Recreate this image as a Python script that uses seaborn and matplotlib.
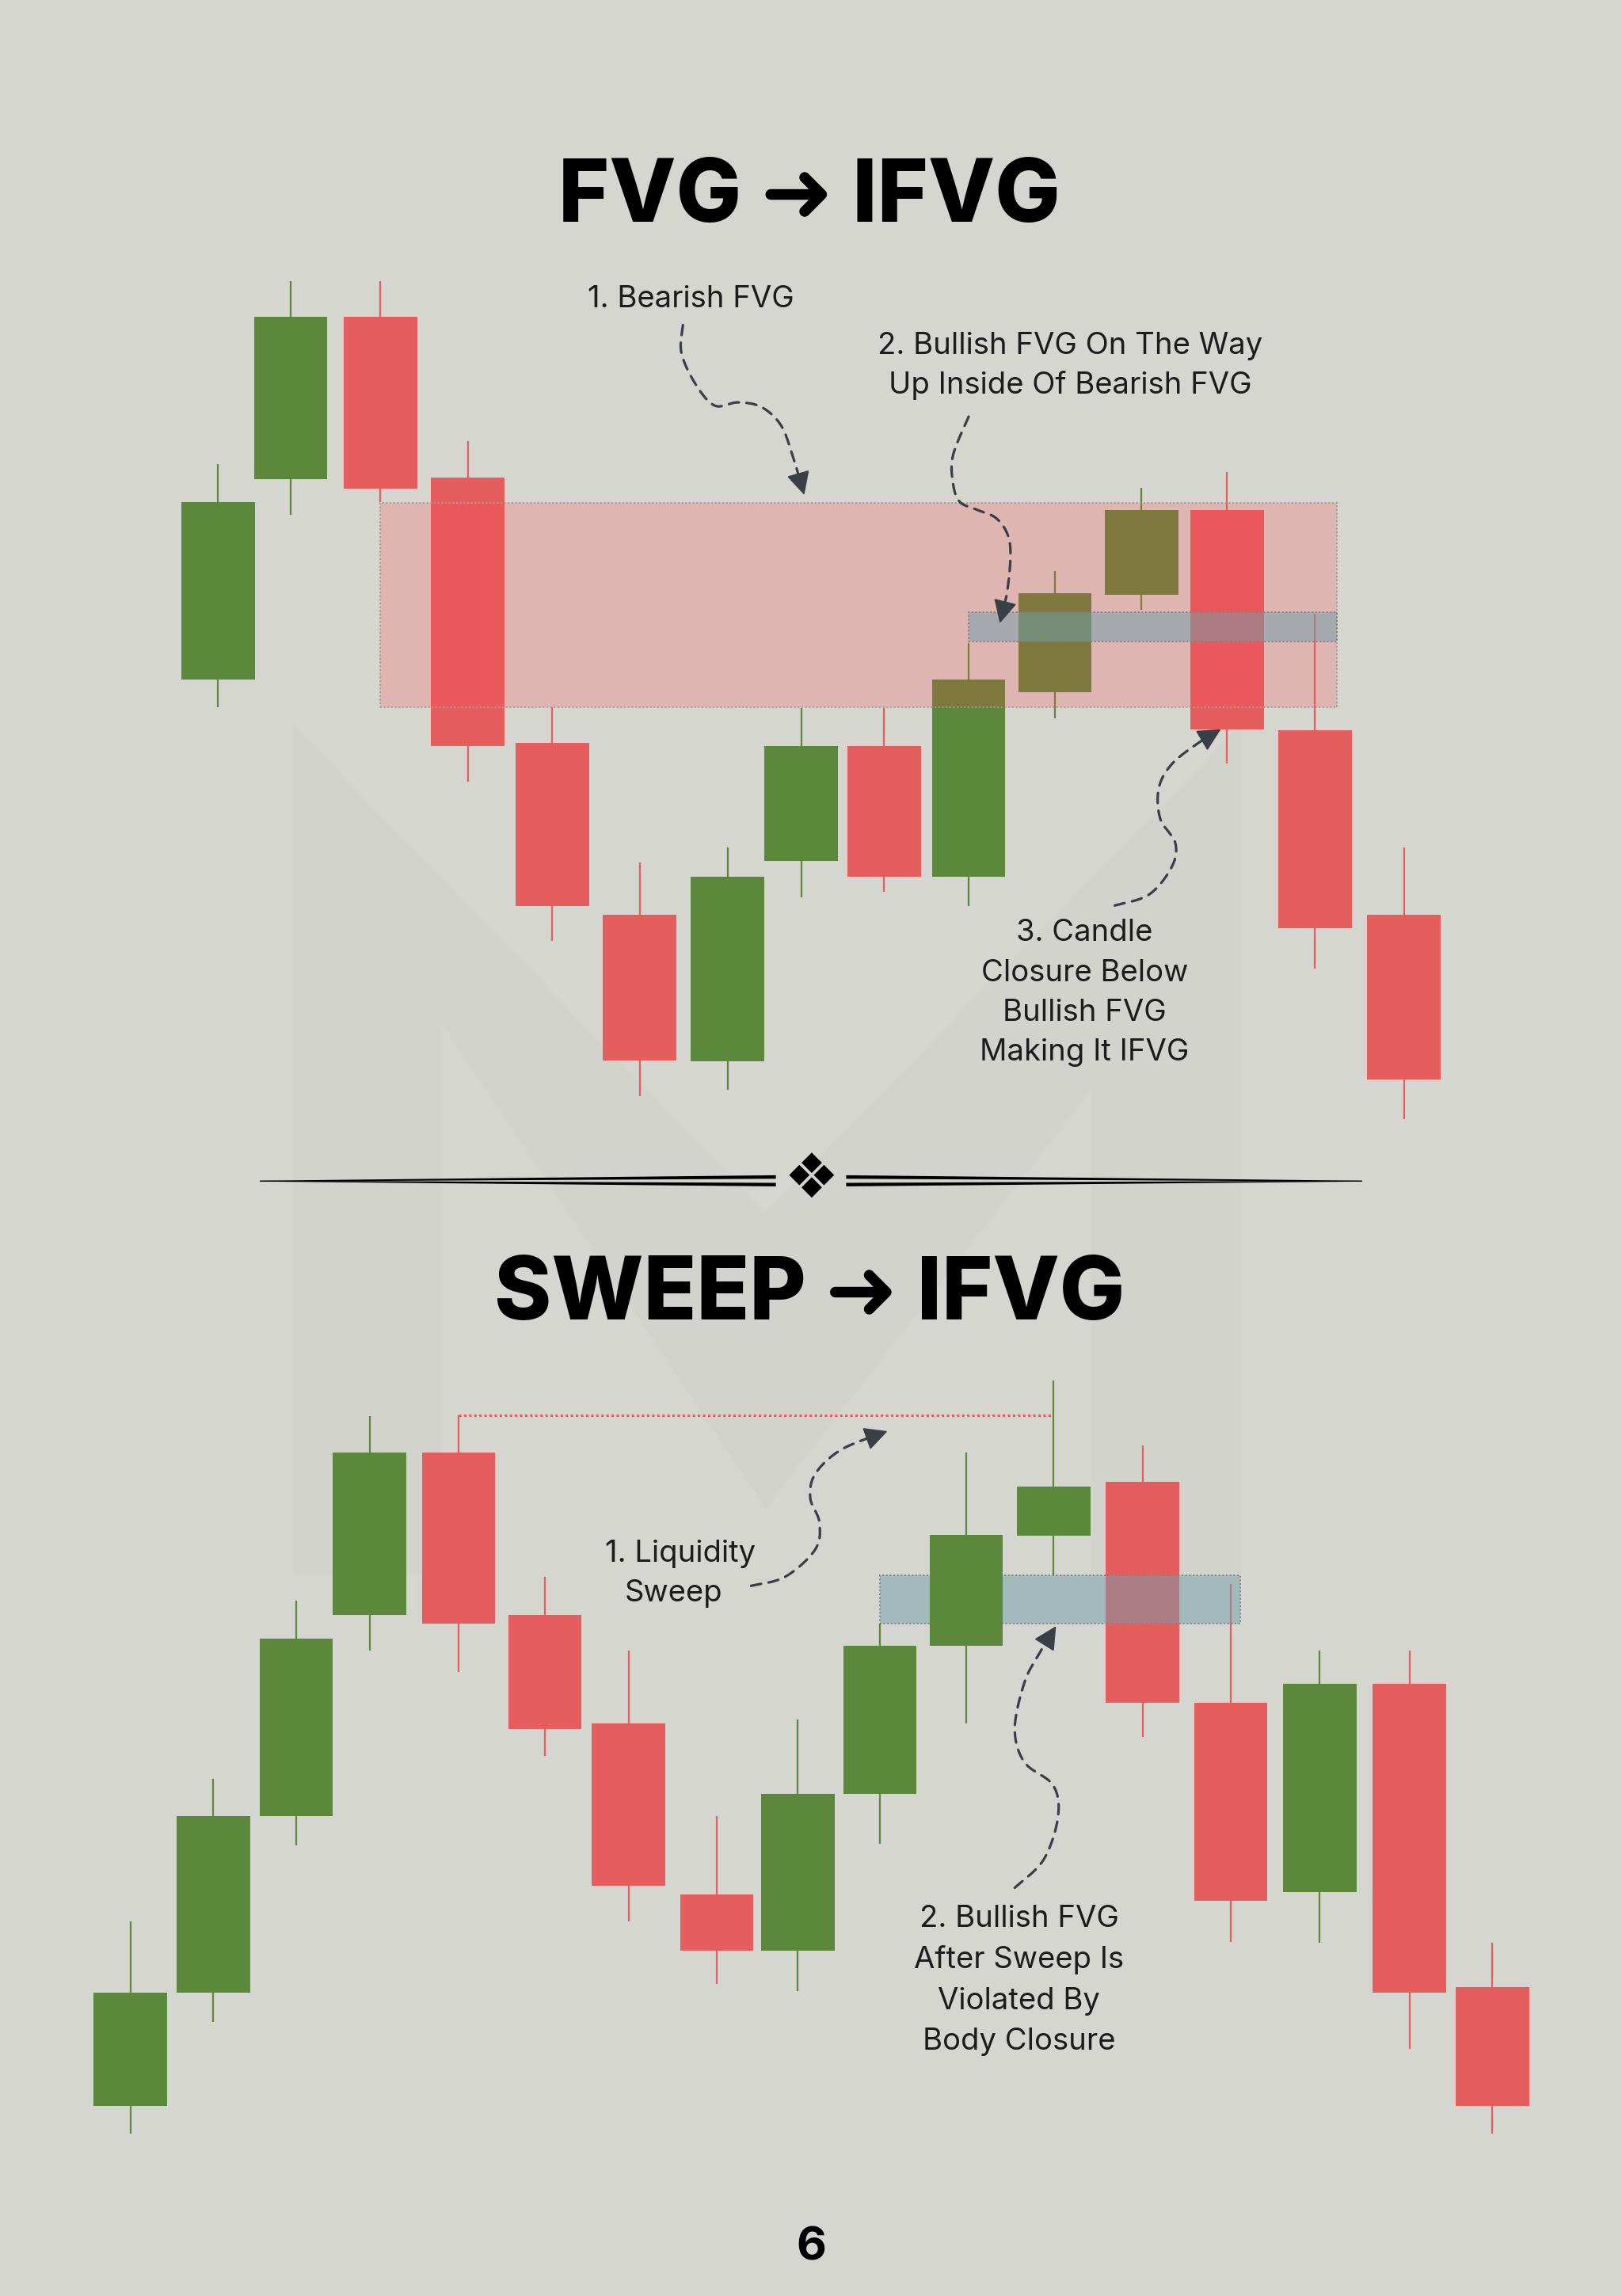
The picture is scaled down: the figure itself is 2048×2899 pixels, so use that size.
import numpy as np
import pandas as pd
import matplotlib
matplotlib.use("Agg")
import matplotlib.pyplot as plt
import seaborn as sns
from matplotlib.patches import Rectangle, Polygon, FancyArrowPatch

# ---------------- data ----------------
# Chart 1 : FVG -> IFVG   (x = bar slot, prices in arbitrary units)
top_x     = [0.00, 0.84, 1.88, 2.89, 3.87, 4.88, 5.90, 6.75, 7.71, 8.69, 9.69, 10.69, 11.68, 12.70, 13.73]
top_open  = [67.2, 94.5, 116.7, 94.8, 58.5, 35.1, 15.0, 42.4, 58.1, 40.2, 65.5, 78.8, 90.3, 60.3, 35.1]
top_close = [91.4, 116.7, 93.3, 58.1, 36.3, 15.1, 40.2, 58.1, 40.2, 67.2, 79.0, 90.3, 60.4, 33.2, 12.6]
top_high  = [96.6, 121.6, 121.6, 99.8, 63.4, 42.2, 44.3, 63.3, 63.3, 72.2, 82.0, 93.4, 95.5, 76.2, 44.3]
top_low   = [63.4, 89.7, 91.4, 53.2, 31.5, 10.3, 11.1, 37.4, 38.2, 36.3, 61.9, 76.7, 55.7, 27.7, 7.1]
top_bear_fvg = [1.88, 12.95, 63.4, 91.3]     # x start, x end, low, high
top_bull_fvg = [8.69, 12.95, 72.4, 76.4]

# Chart 2 : SWEEP -> IFVG
bot_x     = [0.00, 0.96, 1.92, 2.77, 3.80, 4.80, 5.77, 6.79, 7.73, 8.68, 9.68, 10.69, 11.72, 12.74, 13.77, 14.81, 15.77]
bot_open  = [32.4, 47.8, 72.0, 99.4, 121.6, 99.4, 84.6, 61.2, 53.6, 75.0, 95.2, 110.2, 117.6, 87.4, 61.6, 90.0, 48.6]
bot_close = [47.8, 72.0, 96.2, 121.6, 98.2, 83.8, 62.4, 53.6, 75.0, 95.2, 110.4, 117.0, 87.4, 60.4, 90.0, 47.8, 32.4]
bot_high  = [57.6, 77.0, 101.4, 126.6, 126.7, 104.6, 94.6, 72.0, 85.2, 98.2, 121.6, 131.4, 122.6, 103.6, 94.6, 94.6, 54.6]
bot_low   = [28.6, 43.8, 68.0, 94.6, 91.6, 80.2, 57.6, 49.0, 48.0, 68.2, 84.6, 104.8, 82.8, 54.8, 54.6, 40.2, 28.6]
bot_bull_fvg = [8.68, 12.85, 98.2, 104.8]
sweep_level = [3.80, 10.69, 126.7]           # x start, x end, price

# texts
title_top = "FVG \u279c IFVG"
title_bot = "SWEEP \u279c IFVG"
page_no = "6"
top_notes = [("1. Bearish FVG", 472, 209.6),
             ("2. Bullish FVG On The Way", 731, 241.7),
             ("Up Inside Of Bearish FVG", 731, 269.0),
             ("3. Candle", 741, 642.8),
             ("Closure Below", 741, 670.2),
             ("Bullish FVG", 741, 697.0),
             ("Making It IFVG", 741, 724.0)]
bot_notes = [("1. Liquidity", 465, 1066.4),
             ("Sweep", 460, 1093.4),
             ("2. Bullish FVG", 696, 1316),
             ("After Sweep Is", 696, 1344),
             ("Violated By", 696, 1372),
             ("Body Closure", 696, 1400)]

# annotation arrow paths (page coordinates)
arrow_paths = [
    [(466.5, 222), (465.4, 240.6), (474.5, 261.3), (488, 276.9), (504, 274.8), (520, 277.9),
     (533.4, 290.3), (541.4, 311), (549.4, 338)],
    [(661.7, 284.5), (651, 311), (651, 330), (655.5, 342.6), (667, 348), (680, 353.5),
     (688, 364.3), (690.3, 378.7), (688, 404), (683, 425.6)],
    [(761.5, 618.4), (784.8, 611), (800.3, 592.3), (802.9, 575.8), (792.6, 559.2),
     (791.5, 538.5), (800.3, 522), (818.4, 507.5), (834, 498)],
    [(513.1, 1083), (536.4, 1076.8), (557, 1058), (559.7, 1039.5), (553.5, 1023),
     (557, 1006.4), (575, 989.8), (606.3, 977.4)],
    [(693.2, 1289.2), (712.9, 1270), (722.7, 1241), (719.4, 1219.2), (699.8, 1203.5),
     (693.2, 1180.5), (699.8, 1149), (709.6, 1129.8), (721.4, 1110.5)],
]

# ---------------- style ----------------
BG = "#D6D6D0"
GREEN = "#5B883A"
RED = "#E65D5E"
INK = "#1C1C1C"
ARROW = "#3A3E46"
BODY_W = 0.85

sns.set_theme(style="white")
plt.rcParams["font.family"] = ["Inter", "DejaVu Sans"]

W, H = 1108.0, 1568.0   # page coordinate system
fig = plt.figure(figsize=(20.48, 28.99), dpi=100, facecolor=BG)

page = fig.add_axes([0, 0, 1, 1], zorder=0, label="page")
page.set_xlim(0, W); page.set_ylim(H, 0); page.axis("off")
page.set_facecolor(BG)

# faint watermark
page.add_patch(Polygon([(200, 495), (523, 828), (848, 495), (848, 1075), (745, 1075), (745, 745),
                        (523, 1030), (301, 698), (301, 1075), (200, 1075)],
                       closed=True, facecolor="black", alpha=0.012, lw=0, zorder=0))

# titles and page number
for txt, y in ((title_top, 151.5), (title_bot, 901.0)):
    page.text(W / 2 - 1, y, txt, ha="center", va="baseline", fontsize=79,
              fontweight="heavy", color="black", family=["Inter", "DejaVu Sans"])
page.text(554.3, 1543.6, page_no, ha="center", va="baseline", fontsize=42,
          fontweight="bold", color="black")

# divider
yc = 806.6
for sgn in (-1, 1):
    x_in = 554 + sgn * 24.0
    x_out = 554 + sgn * 376.5
    page.add_patch(Polygon([(x_out, yc - 0.3), (x_in, yc - 4.0), (x_in, yc - 1.6), (x_out, yc + 0.3)],
                           closed=True, facecolor="black", lw=0))
    page.add_patch(Polygon([(x_out, yc - 0.3), (x_in, yc + 1.2), (x_in, yc + 3.6), (x_out, yc + 0.3)],
                           closed=True, facecolor="black", lw=0))
page.text(554, 806, "\u2756", ha="center", va="center", fontsize=56, color="black",
          family=["DejaVu Sans"])


def draw_candles(ax, x, o, c, h, l, z_up, z_down):
    df = pd.DataFrame(dict(x=x, o=o, c=c, h=h, l=l))
    df["up"] = df["c"] >= df["o"]
    for up, z in ((True, z_up), (False, z_down)):
        d = df[df["up"] == up]
        col = GREEN if up else RED
        ax.vlines(d["x"], d["l"], d["h"], color=col, lw=1.6, zorder=z)
        ax.bar(d["x"], d["c"] - d["o"], bottom=d["o"], width=BODY_W, color=col,
               linewidth=0, zorder=z)


def box(ax, spec, face, alpha, edge, z):
    x0, x1, lo, hi = spec
    ax.add_patch(Rectangle((x0, lo), x1 - x0, hi - lo, facecolor=face, alpha=alpha,
                           edgecolor="none", zorder=z))
    ax.add_patch(Rectangle((x0, lo), x1 - x0, hi - lo, facecolor="none", edgecolor=edge,
                           lw=1.4, linestyle=(0, (1, 1.4)), zorder=z + 0.1))


# ---- chart 1 ----
ax1 = fig.add_axes([0, 0, 1, 1], zorder=1, label="top")
ax1.patch.set_alpha(0); ax1.axis("off")
ax1.set_xlim(-149 / 59, (W - 149) / 59)
ax1.set_ylim((800 - H) / 5, 800 / 5)
draw_candles(ax1, top_x, top_open, top_close, top_high, top_low, 1, 1)
box(ax1, top_bear_fvg, (1.0, 74 / 255, 82 / 255), 0.23, "#A39C9C", 2)
box(ax1, top_bull_fvg, (111 / 255, 159 / 255, 170 / 255), 0.5, "#7E7F88", 3)

# ---- chart 2 ----
ax2 = fig.add_axes([0, 0, 1, 1], zorder=2, label="bottom")
ax2.patch.set_alpha(0); ax2.axis("off")
ax2.set_xlim(-89 / 59, (W - 89) / 59)
ax2.set_ylim((1600 - H) / 5, 1600 / 5)
draw_candles(ax2, bot_x, bot_open, bot_close, bot_high, bot_low, 3, 1)
box(ax2, bot_bull_fvg, (111 / 255, 159 / 255, 170 / 255), 0.5, "#7E838A", 2)
ax2.hlines(sweep_level[2], sweep_level[0], sweep_level[1], color=RED, lw=2.2,
           linestyles=[(0, (1, 1.1))], zorder=2)

# ---- annotations ----
ann = fig.add_axes([0, 0, 1, 1], zorder=4, label="ann")
ann.set_xlim(0, W); ann.set_ylim(H, 0); ann.axis("off"); ann.patch.set_alpha(0)

for txt, x, y in top_notes + bot_notes:
    ann.text(x, y, txt, ha="center", va="baseline", fontsize=27.5, color=INK)


def smooth(pts, n=24):
    p = np.asarray(pts, float)
    P = np.vstack([p[0], p, p[-1]])
    out = []
    t = np.linspace(0, 1, n, endpoint=False)[:, None]
    for i in range(1, len(P) - 2):
        p0, p1, p2, p3 = P[i - 1], P[i], P[i + 1], P[i + 2]
        out.append(0.5 * (2 * p1 + (-p0 + p2) * t + (2 * p0 - 5 * p1 + 4 * p2 - p3) * t ** 2
                          + (-p0 + 3 * p1 - 3 * p2 + p3) * t ** 3))
    out.append(p[-1][None])
    return np.vstack(out)


for pts in arrow_paths:
    cur = smooth(pts)
    seg = np.r_[0, np.cumsum(np.hypot(*np.diff(cur, axis=0).T))]
    total = seg[-1]
    cut = np.searchsorted(seg, total - 9)
    ann.plot(cur[:cut, 0], cur[:cut, 1], color=ARROW, lw=2.3, linestyle=(0, (4, 3)),
             solid_capstyle="round", dash_capstyle="round")
    back = np.searchsorted(seg, total - 14)
    ann.add_patch(FancyArrowPatch(tuple(cur[back]), tuple(cur[-1]),
                                  arrowstyle="-|>,head_length=0.75,head_width=0.38",
                                  mutation_scale=24, color=ARROW, lw=1.5,
                                  shrinkA=0, shrinkB=0))

fig.savefig("out.png", dpi=100, facecolor=BG)
